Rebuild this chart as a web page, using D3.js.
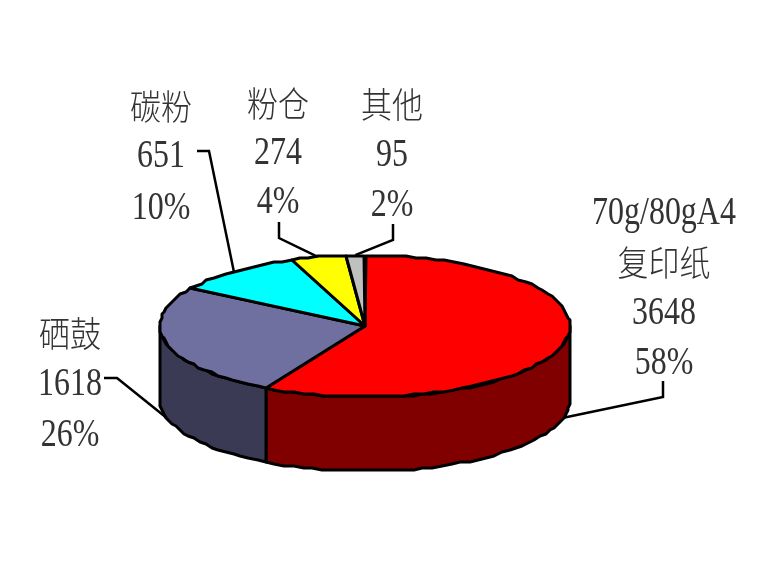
<!DOCTYPE html>
<html lang="zh">
<head>
    <meta charset="UTF-8">
    <title>Pie</title>
    <script src="https://cdn.jsdelivr.net/npm/d3@7"></script>
</head>
<style>
    html, body { margin: 0; background: #fff; }
    svg { display: block; filter: blur(0.6px); }
</style>
<body>
    <div id="graphDiv"></div>
    <script>
        // Chart values
        var names = ["70g/80gA4 复印纸", "硒鼓", "碳粉", "粉仓", "其他"]
        var amounts = [3648, 1618, 651, 274, 95]
        var percents = ["58%", "26%", "10%", "4%", "2%"]
        var topColours = ["#ff0000", "#7070a0", "#00ffff", "#ffff00", "#c0c0c0"]
        var sideColours = ["#800000", "#3a3a55", "#008080", "#808000", "#606060"]

        var width = 760
        var height = 570
        var depth = 74

        // Tilted disc: unit circle mapped to an ellipse on the page
        var xScale = d3.scaleLinear().domain([-1, 1]).range([160, 570])
        var yScale = d3.scaleLinear().domain([-1, 1]).range([397, 255])
        var px = a => xScale(Math.sin(a))
        var py = a => yScale(Math.cos(a))

        var svg = d3.select("#graphDiv").append("svg")
            .attr("width", width).attr("height", height)

        var pie = d3.pie().sort(null)
        var slices = pie(amounts)
        var line = d3.line()

        // Rim is stepped a little so the edge looks like the low-res original
        function rim(a0, a1) {
            var n = Math.max(2, Math.ceil(Math.abs(a1 - a0) / 0.05))
            return d3.range(n + 1).map(i => {
                var a = a0 + (a1 - a0) * i / n
                return [Math.round(px(a) / 2) * 2, Math.round(py(a) / 2) * 2]
            })
        }

        // Side wall, only the front half of the disc shows
        slices.forEach((d, i) => {
            var a0 = Math.max(d.startAngle, Math.PI / 2)
            var a1 = Math.min(d.endAngle, Math.PI * 1.5)
            if (a1 <= a0) return
            var upper = rim(a0, a1)
            var lower = upper.map(p => [p[0], p[1] + depth]).reverse()
            svg.append("path")
                .attr("d", line(upper.concat(lower)) + "Z")
                .attr("fill", sideColours[i])
                .attr("stroke", "#000").attr("stroke-width", 3)
                .attr("stroke-linejoin", "round")
        })

        // Top face
        var centre = [xScale(0), yScale(0)]
        slices.forEach((d, i) => {
            svg.append("path")
                .attr("d", line([centre].concat(rim(d.startAngle, d.endAngle))) + "Z")
                .attr("fill", topColours[i])
                .attr("stroke", "#000").attr("stroke-width", 3)
                .attr("stroke-linejoin", "round")
        })

        // Leader lines: elbow points by hand, last point comes from the slice
        var leaderElbows = [
            [[663, 381], [663, 397]],
            [[104, 378], [117, 378]],
            [[197, 151], [209, 151]],
            [[279, 222], [279, 238]],
            [[393, 224], [393, 240]]
        ]
        slices.forEach((d, i) => {
            var mid = (d.startAngle + d.endAngle) / 2
            var front = i < 2
            var end = [px(mid), py(mid) + (front ? depth : 0)]
            svg.append("path")
                .attr("d", line(leaderElbows[i].concat([end])))
                .attr("fill", "none")
                .attr("stroke", "#000").attr("stroke-width", 2.5)
        })

        // Labels
        var labelLines = [
            ["70g/80gA4", "复印纸", amounts[0], percents[0]],
            [names[1], amounts[1], percents[1]],
            [names[2], amounts[2], percents[2]],
            [names[3], amounts[3], percents[3]],
            [names[4], amounts[4], percents[4]]
        ]
        var labelX = [664, 70, 161, 278, 392]
        var labelY = [[210, 261, 310, 360], [332, 381, 432], [105, 153, 205], [102, 150, 199], [103, 152, 202]]

        labelLines.forEach((rows, i) => {
            rows.forEach((t, j) => {
                var s = String(t)
                var cjk = /[\u4e00-\u9fff]/.test(s)
                svg.append("text")
                    .attr("transform", `translate(${labelX[i]},${labelY[i][j]}) scale(${cjk ? "1,1.15" : "0.78,1"})`)
                    .attr("text-anchor", "middle")
                    .attr("dominant-baseline", "central")
                    .attr("font-family", cjk ? "'Noto Sans CJK SC'" : "'Liberation Serif'")
                    .attr("font-size", cjk ? 31 : 41)
                    .attr("font-weight", cjk ? 300 : 400)
                    .attr("fill", "#333")
                    .text(s)
            })
        })
    </script>
</body>
</html>
